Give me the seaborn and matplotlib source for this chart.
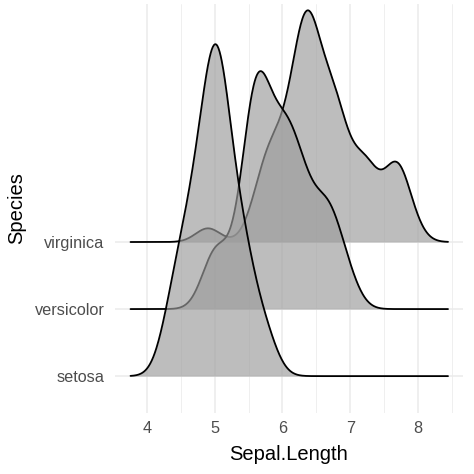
import numpy as np
import pandas as pd
import seaborn as sns
import matplotlib.pyplot as plt
from matplotlib import transforms

# iris Sepal.Length, per species
species = ['setosa', 'versicolor', 'virginica']
setosa = [5.1, 4.9, 4.7, 4.6, 5.0, 5.4, 4.6, 5.0, 4.4, 4.9, 5.4, 4.8, 4.8, 4.3, 5.8, 5.7, 5.4,
          5.1, 5.7, 5.1, 5.4, 5.1, 4.6, 5.1, 4.8, 5.0, 5.0, 5.2, 5.2, 4.7, 4.8, 5.4, 5.2, 5.5,
          4.9, 5.0, 5.5, 4.9, 4.4, 5.1, 5.0, 4.5, 4.4, 5.0, 5.1, 4.8, 5.1, 4.6, 5.3, 5.0]
versicolor = [7.0, 6.4, 6.9, 5.5, 6.5, 5.7, 6.3, 4.9, 6.6, 5.2, 5.0, 5.9, 6.0, 6.1, 5.6, 6.7, 5.6,
              5.8, 6.2, 5.6, 5.9, 6.1, 6.3, 6.1, 6.4, 6.6, 6.8, 6.7, 6.0, 5.7, 5.5, 5.5, 5.8, 6.0,
              5.4, 6.0, 6.7, 6.3, 5.6, 5.5, 5.5, 6.1, 5.8, 5.0, 5.6, 5.7, 5.7, 6.2, 5.1, 5.7]
virginica = [6.3, 5.8, 7.1, 6.3, 6.5, 7.6, 4.9, 7.3, 6.7, 7.2, 6.5, 6.4, 6.8, 5.7, 5.8, 6.4, 6.5,
             7.7, 7.7, 6.0, 6.9, 5.6, 7.7, 6.3, 6.7, 7.2, 6.2, 6.1, 6.4, 7.2, 7.4, 7.9, 6.4, 6.3,
             6.1, 7.7, 6.3, 6.4, 6.0, 6.9, 6.7, 6.9, 5.8, 6.8, 6.7, 6.7, 6.3, 6.5, 6.2, 5.9]
x_ticks = [4, 5, 6, 7, 8]

df = pd.DataFrame({
    'Sepal.Length': setosa + versicolor + virginica,
    'Species': np.repeat(species, 50),
})

# joint bandwidth like ggridges: mean of bw.nrd0 per group
def bw_nrd0(x):
    x = np.asarray(x)
    q1, q3 = np.percentile(x, [25, 75])
    lo = min(np.std(x, ddof=1), (q3 - q1) / 1.34)
    return 0.9 * lo * len(x) ** -0.2

bw = np.mean([bw_nrd0(g) for _, g in df.groupby('Species')['Sepal.Length']])
x_lo = df['Sepal.Length'].min() - 3 * bw
x_hi = df['Sepal.Length'].max() + 3 * bw
ridge_scale = 4.95  # height of tallest ridge, in units of row spacing

sns.set_theme(style='white')
plt.rcParams['font.family'] = ['Liberation Sans', 'DejaVu Sans']

fig = plt.figure(figsize=(4.74, 4.74), dpi=100)
ax = fig.add_axes([0.2426, 0.1287, 0.9768 - 0.2426, 0.9916 - 0.1287])

# draw top row first so lower ridges lie on top
artists = []
for order, i in enumerate(reversed(range(len(species)))):
    vals = df.loc[df['Species'] == species[i], 'Sepal.Length']
    fac = bw / np.std(vals, ddof=1)
    n_coll = len(ax.collections)
    sns.kdeplot(x=vals, ax=ax, bw_method=fac, cut=40, clip=(x_lo, x_hi), gridsize=600,
                fill=True, color='#9C9C9C', alpha=0.66, linewidth=0)
    fill_art = ax.collections[n_coll:]
    sns.kdeplot(x=vals, ax=ax, bw_method=fac, cut=40, clip=(x_lo, x_hi), gridsize=600,
                color='black', linewidth=1.3)
    line_art = ax.lines[-1]
    for f in fill_art:
        f.set_zorder(3 + 2 * order)
    line_art.set_zorder(4 + 2 * order)
    artists.append((i + 1, fill_art, line_art))

dens_max = max(a[2].get_ydata().max() for a in artists)
k = ridge_scale / dens_max
for base, fills, line in artists:
    tr = transforms.Affine2D().scale(1, k).translate(0, base) + ax.transData
    for f in fills:
        f.set_transform(tr)
    line.set_transform(tr)

ax.set_xlim(3.528, 8.664)
ax.set_ylim(0.45, 6.55)
ax.set_xticks(x_ticks)
ax.set_xticks([4.5, 5.5, 6.5, 7.5, 8.5], minor=True)
ax.set_yticks([1, 2, 3])
ax.set_yticklabels(species)

ax.set_axisbelow(True)
ax.grid(True, which='major', color='#EBEBEB', linewidth=1.1)
ax.grid(True, which='minor', axis='x', color='#EBEBEB', linewidth=0.55)
for s in ax.spines.values():
    s.set_visible(False)
ax.tick_params(axis='both', which='both', length=0, labelsize=11.7, labelcolor='#4D4D4D')
ax.tick_params(axis='x', pad=5.5)
ax.tick_params(axis='y', pad=7.5)

ax.set_xlabel('Sepal.Length', fontsize=14.5, color='black', labelpad=7)
ax.set_ylabel('Species', fontsize=14.5, color='black', labelpad=6)

fig.savefig('out.png', dpi=100)
